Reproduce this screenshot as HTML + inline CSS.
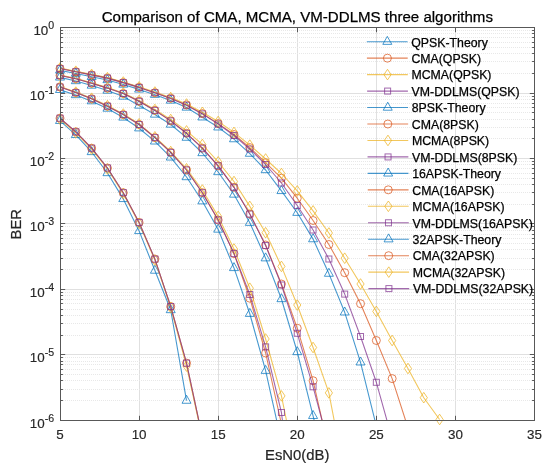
<!DOCTYPE html>
<html lang="en"><head><meta charset="utf-8"><title>Comparison of CMA, MCMA, VM-DDLMS three algorithms</title>
<style>html,body{margin:0;padding:0;background:#fff}svg{display:block}</style></head>
<body>
<svg width="550" height="468" viewBox="0 0 550 468" font-family="'Liberation Sans', sans-serif">
<rect width="550" height="468" fill="#fff"/>
<g stroke="#e0e0e0" stroke-width="1"><line x1="139.50" y1="27.50" x2="139.50" y2="420.50"/><line x1="218.50" y1="27.50" x2="218.50" y2="420.50"/><line x1="297.50" y1="27.50" x2="297.50" y2="420.50"/><line x1="376.50" y1="27.50" x2="376.50" y2="420.50"/><line x1="455.50" y1="27.50" x2="455.50" y2="420.50"/><line x1="60.50" y1="93.50" x2="534.50" y2="93.50"/><line x1="60.50" y1="158.50" x2="534.50" y2="158.50"/><line x1="60.50" y1="223.50" x2="534.50" y2="223.50"/><line x1="60.50" y1="289.50" x2="534.50" y2="289.50"/><line x1="60.50" y1="354.50" x2="534.50" y2="354.50"/></g>
<g stroke="#e8e8e8" stroke-width="1" stroke-dasharray="1 1"><line x1="61.00" y1="73.50" x2="534.00" y2="73.50"/><line x1="61.00" y1="61.50" x2="534.00" y2="61.50"/><line x1="61.00" y1="53.50" x2="534.00" y2="53.50"/><line x1="61.00" y1="47.50" x2="534.00" y2="47.50"/><line x1="61.00" y1="42.50" x2="534.00" y2="42.50"/><line x1="61.00" y1="37.50" x2="534.00" y2="37.50"/><line x1="61.00" y1="33.50" x2="534.00" y2="33.50"/><line x1="61.00" y1="30.50" x2="534.00" y2="30.50"/><line x1="61.00" y1="138.50" x2="534.00" y2="138.50"/><line x1="61.00" y1="127.50" x2="534.00" y2="127.50"/><line x1="61.00" y1="119.50" x2="534.00" y2="119.50"/><line x1="61.00" y1="112.50" x2="534.00" y2="112.50"/><line x1="61.00" y1="107.50" x2="534.00" y2="107.50"/><line x1="61.00" y1="103.50" x2="534.00" y2="103.50"/><line x1="61.00" y1="99.50" x2="534.00" y2="99.50"/><line x1="61.00" y1="96.50" x2="534.00" y2="96.50"/><line x1="61.00" y1="204.50" x2="534.00" y2="204.50"/><line x1="61.00" y1="192.50" x2="534.00" y2="192.50"/><line x1="61.00" y1="184.50" x2="534.00" y2="184.50"/><line x1="61.00" y1="178.50" x2="534.00" y2="178.50"/><line x1="61.00" y1="173.50" x2="534.00" y2="173.50"/><line x1="61.00" y1="168.50" x2="534.00" y2="168.50"/><line x1="61.00" y1="164.50" x2="534.00" y2="164.50"/><line x1="61.00" y1="161.50" x2="534.00" y2="161.50"/><line x1="61.00" y1="269.50" x2="534.00" y2="269.50"/><line x1="61.00" y1="258.50" x2="534.00" y2="258.50"/><line x1="61.00" y1="249.50" x2="534.00" y2="249.50"/><line x1="61.00" y1="243.50" x2="534.00" y2="243.50"/><line x1="61.00" y1="238.50" x2="534.00" y2="238.50"/><line x1="61.00" y1="234.50" x2="534.00" y2="234.50"/><line x1="61.00" y1="230.50" x2="534.00" y2="230.50"/><line x1="61.00" y1="226.50" x2="534.00" y2="226.50"/><line x1="61.00" y1="335.50" x2="534.00" y2="335.50"/><line x1="61.00" y1="323.50" x2="534.00" y2="323.50"/><line x1="61.00" y1="315.50" x2="534.00" y2="315.50"/><line x1="61.00" y1="309.50" x2="534.00" y2="309.50"/><line x1="61.00" y1="303.50" x2="534.00" y2="303.50"/><line x1="61.00" y1="299.50" x2="534.00" y2="299.50"/><line x1="61.00" y1="295.50" x2="534.00" y2="295.50"/><line x1="61.00" y1="292.50" x2="534.00" y2="292.50"/><line x1="61.00" y1="400.50" x2="534.00" y2="400.50"/><line x1="61.00" y1="389.50" x2="534.00" y2="389.50"/><line x1="61.00" y1="380.50" x2="534.00" y2="380.50"/><line x1="61.00" y1="374.50" x2="534.00" y2="374.50"/><line x1="61.00" y1="369.50" x2="534.00" y2="369.50"/><line x1="61.00" y1="364.50" x2="534.00" y2="364.50"/><line x1="61.00" y1="361.50" x2="534.00" y2="361.50"/><line x1="61.00" y1="357.50" x2="534.00" y2="357.50"/></g>
<defs><clipPath id="cp"><rect x="60.50" y="27.50" width="474.00" height="393.00"/></clipPath></defs>
<polyline clip-path="url(#cp)" points="60.00,120.79 75.82,134.82 91.63,151.96 107.45,173.00 123.27,198.91 139.08,230.91 154.90,270.57 170.72,310.00 186.53,400.60" fill="none" stroke="#0072BD" stroke-opacity="0.72" stroke-width="1.1" stroke-linejoin="round"/>
<g stroke-opacity="0.72"><polygon points="60.00,115.46 64.50,123.46 55.50,123.46" fill="none" stroke="#0072BD" stroke-width="1.00"/><polygon points="75.82,129.48 80.32,137.48 71.32,137.48" fill="none" stroke="#0072BD" stroke-width="1.00"/><polygon points="91.63,146.63 96.13,154.63 87.13,154.63" fill="none" stroke="#0072BD" stroke-width="1.00"/><polygon points="107.45,167.67 111.95,175.67 102.95,175.67" fill="none" stroke="#0072BD" stroke-width="1.00"/><polygon points="123.27,193.57 127.77,201.57 118.77,201.57" fill="none" stroke="#0072BD" stroke-width="1.00"/><polygon points="139.08,225.58 143.58,233.58 134.58,233.58" fill="none" stroke="#0072BD" stroke-width="1.00"/><polygon points="154.90,265.23 159.40,273.23 150.40,273.23" fill="none" stroke="#0072BD" stroke-width="1.00"/><polygon points="170.72,304.67 175.22,312.67 166.22,312.67" fill="none" stroke="#0072BD" stroke-width="1.00"/><polygon points="186.53,395.27 191.03,403.27 182.03,403.27" fill="none" stroke="#0072BD" stroke-width="1.00"/></g>
<polyline clip-path="url(#cp)" points="60.00,118.20 75.82,131.80 91.63,148.20 107.45,168.00 123.27,192.70 139.08,222.40 154.90,259.10 170.72,306.50 186.53,363.10 202.35,437.00" fill="none" stroke="#D95319" stroke-opacity="0.72" stroke-width="1.1" stroke-linejoin="round"/>
<g stroke-opacity="0.72"><circle cx="60.00" cy="118.20" r="4" fill="none" stroke="#D95319" stroke-width="1.00"/><circle cx="75.82" cy="131.80" r="4" fill="none" stroke="#D95319" stroke-width="1.00"/><circle cx="91.63" cy="148.20" r="4" fill="none" stroke="#D95319" stroke-width="1.00"/><circle cx="107.45" cy="168.00" r="4" fill="none" stroke="#D95319" stroke-width="1.00"/><circle cx="123.27" cy="192.70" r="4" fill="none" stroke="#D95319" stroke-width="1.00"/><circle cx="139.08" cy="222.40" r="4" fill="none" stroke="#D95319" stroke-width="1.00"/><circle cx="154.90" cy="259.10" r="4" fill="none" stroke="#D95319" stroke-width="1.00"/><circle cx="170.72" cy="306.50" r="4" fill="none" stroke="#D95319" stroke-width="1.00"/><circle cx="186.53" cy="363.10" r="4" fill="none" stroke="#D95319" stroke-width="1.00"/></g>
<polyline clip-path="url(#cp)" points="60.00,119.20 75.82,132.80 91.63,149.20 107.45,169.00 123.27,193.70 139.08,223.40 154.90,260.10 170.72,307.50 186.53,366.10 202.35,438.00" fill="none" stroke="#EDB120" stroke-opacity="0.72" stroke-width="1.1" stroke-linejoin="round"/>
<g stroke-opacity="0.72"><polygon points="60.00,113.90 63.60,119.20 60.00,124.50 56.40,119.20" fill="none" stroke="#EDB120" stroke-width="1.00"/><polygon points="75.82,127.50 79.42,132.80 75.82,138.10 72.22,132.80" fill="none" stroke="#EDB120" stroke-width="1.00"/><polygon points="91.63,143.90 95.23,149.20 91.63,154.50 88.03,149.20" fill="none" stroke="#EDB120" stroke-width="1.00"/><polygon points="107.45,163.70 111.05,169.00 107.45,174.30 103.85,169.00" fill="none" stroke="#EDB120" stroke-width="1.00"/><polygon points="123.27,188.40 126.87,193.70 123.27,199.00 119.67,193.70" fill="none" stroke="#EDB120" stroke-width="1.00"/><polygon points="139.08,218.10 142.68,223.40 139.08,228.70 135.48,223.40" fill="none" stroke="#EDB120" stroke-width="1.00"/><polygon points="154.90,254.80 158.50,260.10 154.90,265.40 151.30,260.10" fill="none" stroke="#EDB120" stroke-width="1.00"/><polygon points="170.72,302.20 174.32,307.50 170.72,312.80 167.12,307.50" fill="none" stroke="#EDB120" stroke-width="1.00"/><polygon points="186.53,360.80 190.13,366.10 186.53,371.40 182.93,366.10" fill="none" stroke="#EDB120" stroke-width="1.00"/></g>
<polyline clip-path="url(#cp)" points="60.00,118.20 75.82,131.80 91.63,148.20 107.45,168.00 123.27,192.70 139.08,222.40 154.90,259.10 170.72,306.50 186.53,363.10 202.35,437.00" fill="none" stroke="#7E2F8E" stroke-opacity="0.72" stroke-width="1.1" stroke-linejoin="round"/>
<g stroke-opacity="0.72"><rect x="57.00" y="115.20" width="6.00" height="6.00" fill="none" stroke="#7E2F8E" stroke-width="1.00"/><rect x="72.82" y="128.80" width="6.00" height="6.00" fill="none" stroke="#7E2F8E" stroke-width="1.00"/><rect x="88.63" y="145.20" width="6.00" height="6.00" fill="none" stroke="#7E2F8E" stroke-width="1.00"/><rect x="104.45" y="165.00" width="6.00" height="6.00" fill="none" stroke="#7E2F8E" stroke-width="1.00"/><rect x="120.27" y="189.70" width="6.00" height="6.00" fill="none" stroke="#7E2F8E" stroke-width="1.00"/><rect x="136.08" y="219.40" width="6.00" height="6.00" fill="none" stroke="#7E2F8E" stroke-width="1.00"/><rect x="151.90" y="256.10" width="6.00" height="6.00" fill="none" stroke="#7E2F8E" stroke-width="1.00"/><rect x="167.72" y="303.50" width="6.00" height="6.00" fill="none" stroke="#7E2F8E" stroke-width="1.00"/><rect x="183.53" y="360.10" width="6.00" height="6.00" fill="none" stroke="#7E2F8E" stroke-width="1.00"/></g>
<polyline clip-path="url(#cp)" points="60.00,89.84 75.82,94.99 91.63,101.14 107.45,108.53 123.27,117.44 139.08,128.23 154.90,141.36 170.72,157.39 186.53,177.03 202.35,201.20 218.17,229.50 233.98,267.93 249.80,313.74 265.62,370.72 281.43,441.74" fill="none" stroke="#0072BD" stroke-opacity="0.72" stroke-width="1.1" stroke-linejoin="round"/>
<g stroke-opacity="0.72"><polygon points="60.00,84.51 64.50,92.51 55.50,92.51" fill="none" stroke="#0072BD" stroke-width="1.00"/><polygon points="75.82,89.66 80.32,97.66 71.32,97.66" fill="none" stroke="#0072BD" stroke-width="1.00"/><polygon points="91.63,95.81 96.13,103.81 87.13,103.81" fill="none" stroke="#0072BD" stroke-width="1.00"/><polygon points="107.45,103.20 111.95,111.20 102.95,111.20" fill="none" stroke="#0072BD" stroke-width="1.00"/><polygon points="123.27,112.11 127.77,120.11 118.77,120.11" fill="none" stroke="#0072BD" stroke-width="1.00"/><polygon points="139.08,122.90 143.58,130.90 134.58,130.90" fill="none" stroke="#0072BD" stroke-width="1.00"/><polygon points="154.90,136.03 159.40,144.03 150.40,144.03" fill="none" stroke="#0072BD" stroke-width="1.00"/><polygon points="170.72,152.05 175.22,160.05 166.22,160.05" fill="none" stroke="#0072BD" stroke-width="1.00"/><polygon points="186.53,171.70 191.03,179.70 182.03,179.70" fill="none" stroke="#0072BD" stroke-width="1.00"/><polygon points="202.35,195.86 206.85,203.86 197.85,203.86" fill="none" stroke="#0072BD" stroke-width="1.00"/><polygon points="218.17,224.17 222.67,232.17 213.67,232.17" fill="none" stroke="#0072BD" stroke-width="1.00"/><polygon points="233.98,262.60 238.48,270.60 229.48,270.60" fill="none" stroke="#0072BD" stroke-width="1.00"/><polygon points="249.80,308.40 254.30,316.40 245.30,316.40" fill="none" stroke="#0072BD" stroke-width="1.00"/><polygon points="265.62,365.38 270.12,373.38 261.12,373.38" fill="none" stroke="#0072BD" stroke-width="1.00"/></g>
<polyline clip-path="url(#cp)" points="60.00,87.00 75.82,92.60 91.63,98.80 107.45,106.20 123.27,114.60 139.08,124.50 154.90,137.60 170.72,152.40 186.53,170.00 202.35,192.70 218.17,220.00 233.98,253.60 249.80,298.20 265.62,353.00 281.43,424.00" fill="none" stroke="#D95319" stroke-opacity="0.72" stroke-width="1.1" stroke-linejoin="round"/>
<g stroke-opacity="0.72"><circle cx="60.00" cy="87.00" r="4" fill="none" stroke="#D95319" stroke-width="1.00"/><circle cx="75.82" cy="92.60" r="4" fill="none" stroke="#D95319" stroke-width="1.00"/><circle cx="91.63" cy="98.80" r="4" fill="none" stroke="#D95319" stroke-width="1.00"/><circle cx="107.45" cy="106.20" r="4" fill="none" stroke="#D95319" stroke-width="1.00"/><circle cx="123.27" cy="114.60" r="4" fill="none" stroke="#D95319" stroke-width="1.00"/><circle cx="139.08" cy="124.50" r="4" fill="none" stroke="#D95319" stroke-width="1.00"/><circle cx="154.90" cy="137.60" r="4" fill="none" stroke="#D95319" stroke-width="1.00"/><circle cx="170.72" cy="152.40" r="4" fill="none" stroke="#D95319" stroke-width="1.00"/><circle cx="186.53" cy="170.00" r="4" fill="none" stroke="#D95319" stroke-width="1.00"/><circle cx="202.35" cy="192.70" r="4" fill="none" stroke="#D95319" stroke-width="1.00"/><circle cx="218.17" cy="220.00" r="4" fill="none" stroke="#D95319" stroke-width="1.00"/><circle cx="233.98" cy="253.60" r="4" fill="none" stroke="#D95319" stroke-width="1.00"/><circle cx="249.80" cy="298.20" r="4" fill="none" stroke="#D95319" stroke-width="1.00"/><circle cx="265.62" cy="353.00" r="4" fill="none" stroke="#D95319" stroke-width="1.00"/></g>
<polyline clip-path="url(#cp)" points="60.00,86.50 75.82,92.10 91.63,98.20 107.45,105.60 123.27,114.00 139.08,123.80 154.90,136.80 170.72,151.50 186.53,168.80 202.35,190.00 218.17,216.40 233.98,249.00 249.80,288.20 265.62,339.00 281.43,395.90 297.25,473.00" fill="none" stroke="#EDB120" stroke-opacity="0.72" stroke-width="1.1" stroke-linejoin="round"/>
<g stroke-opacity="0.72"><polygon points="60.00,81.20 63.60,86.50 60.00,91.80 56.40,86.50" fill="none" stroke="#EDB120" stroke-width="1.00"/><polygon points="75.82,86.80 79.42,92.10 75.82,97.40 72.22,92.10" fill="none" stroke="#EDB120" stroke-width="1.00"/><polygon points="91.63,92.90 95.23,98.20 91.63,103.50 88.03,98.20" fill="none" stroke="#EDB120" stroke-width="1.00"/><polygon points="107.45,100.30 111.05,105.60 107.45,110.90 103.85,105.60" fill="none" stroke="#EDB120" stroke-width="1.00"/><polygon points="123.27,108.70 126.87,114.00 123.27,119.30 119.67,114.00" fill="none" stroke="#EDB120" stroke-width="1.00"/><polygon points="139.08,118.50 142.68,123.80 139.08,129.10 135.48,123.80" fill="none" stroke="#EDB120" stroke-width="1.00"/><polygon points="154.90,131.50 158.50,136.80 154.90,142.10 151.30,136.80" fill="none" stroke="#EDB120" stroke-width="1.00"/><polygon points="170.72,146.20 174.32,151.50 170.72,156.80 167.12,151.50" fill="none" stroke="#EDB120" stroke-width="1.00"/><polygon points="186.53,163.50 190.13,168.80 186.53,174.10 182.93,168.80" fill="none" stroke="#EDB120" stroke-width="1.00"/><polygon points="202.35,184.70 205.95,190.00 202.35,195.30 198.75,190.00" fill="none" stroke="#EDB120" stroke-width="1.00"/><polygon points="218.17,211.10 221.77,216.40 218.17,221.70 214.57,216.40" fill="none" stroke="#EDB120" stroke-width="1.00"/><polygon points="233.98,243.70 237.58,249.00 233.98,254.30 230.38,249.00" fill="none" stroke="#EDB120" stroke-width="1.00"/><polygon points="249.80,282.90 253.40,288.20 249.80,293.50 246.20,288.20" fill="none" stroke="#EDB120" stroke-width="1.00"/><polygon points="265.62,333.70 269.22,339.00 265.62,344.30 262.02,339.00" fill="none" stroke="#EDB120" stroke-width="1.00"/><polygon points="281.43,390.60 285.03,395.90 281.43,401.20 277.83,395.90" fill="none" stroke="#EDB120" stroke-width="1.00"/></g>
<polyline clip-path="url(#cp)" points="60.00,87.00 75.82,92.60 91.63,98.80 107.45,106.20 123.27,114.60 139.08,124.50 154.90,137.60 170.72,152.40 186.53,170.00 202.35,192.70 218.17,220.00 233.98,253.60 249.80,294.50 265.62,346.90 281.43,412.50 297.25,540.00" fill="none" stroke="#7E2F8E" stroke-opacity="0.72" stroke-width="1.1" stroke-linejoin="round"/>
<g stroke-opacity="0.72"><rect x="57.00" y="84.00" width="6.00" height="6.00" fill="none" stroke="#7E2F8E" stroke-width="1.00"/><rect x="72.82" y="89.60" width="6.00" height="6.00" fill="none" stroke="#7E2F8E" stroke-width="1.00"/><rect x="88.63" y="95.80" width="6.00" height="6.00" fill="none" stroke="#7E2F8E" stroke-width="1.00"/><rect x="104.45" y="103.20" width="6.00" height="6.00" fill="none" stroke="#7E2F8E" stroke-width="1.00"/><rect x="120.27" y="111.60" width="6.00" height="6.00" fill="none" stroke="#7E2F8E" stroke-width="1.00"/><rect x="136.08" y="121.50" width="6.00" height="6.00" fill="none" stroke="#7E2F8E" stroke-width="1.00"/><rect x="151.90" y="134.60" width="6.00" height="6.00" fill="none" stroke="#7E2F8E" stroke-width="1.00"/><rect x="167.72" y="149.40" width="6.00" height="6.00" fill="none" stroke="#7E2F8E" stroke-width="1.00"/><rect x="183.53" y="167.00" width="6.00" height="6.00" fill="none" stroke="#7E2F8E" stroke-width="1.00"/><rect x="199.35" y="189.70" width="6.00" height="6.00" fill="none" stroke="#7E2F8E" stroke-width="1.00"/><rect x="215.17" y="217.00" width="6.00" height="6.00" fill="none" stroke="#7E2F8E" stroke-width="1.00"/><rect x="230.98" y="250.60" width="6.00" height="6.00" fill="none" stroke="#7E2F8E" stroke-width="1.00"/><rect x="246.80" y="291.50" width="6.00" height="6.00" fill="none" stroke="#7E2F8E" stroke-width="1.00"/><rect x="262.62" y="343.90" width="6.00" height="6.00" fill="none" stroke="#7E2F8E" stroke-width="1.00"/><rect x="278.43" y="409.50" width="6.00" height="6.00" fill="none" stroke="#7E2F8E" stroke-width="1.00"/></g>
<polyline clip-path="url(#cp)" points="60.00,77.40 75.82,81.00 91.63,85.50 107.45,90.50 123.27,96.50 139.08,105.50 154.90,114.50 170.72,124.50 186.53,137.60 202.35,153.00 218.17,172.00 233.98,194.50 249.80,222.70 265.62,258.20 281.43,299.00 297.25,352.00 313.07,415.80 328.88,480.00" fill="none" stroke="#0072BD" stroke-opacity="0.72" stroke-width="1.1" stroke-linejoin="round"/>
<g stroke-opacity="0.72"><polygon points="60.00,72.07 64.50,80.07 55.50,80.07" fill="none" stroke="#0072BD" stroke-width="1.00"/><polygon points="75.82,75.67 80.32,83.67 71.32,83.67" fill="none" stroke="#0072BD" stroke-width="1.00"/><polygon points="91.63,80.17 96.13,88.17 87.13,88.17" fill="none" stroke="#0072BD" stroke-width="1.00"/><polygon points="107.45,85.17 111.95,93.17 102.95,93.17" fill="none" stroke="#0072BD" stroke-width="1.00"/><polygon points="123.27,91.17 127.77,99.17 118.77,99.17" fill="none" stroke="#0072BD" stroke-width="1.00"/><polygon points="139.08,100.17 143.58,108.17 134.58,108.17" fill="none" stroke="#0072BD" stroke-width="1.00"/><polygon points="154.90,109.17 159.40,117.17 150.40,117.17" fill="none" stroke="#0072BD" stroke-width="1.00"/><polygon points="170.72,119.17 175.22,127.17 166.22,127.17" fill="none" stroke="#0072BD" stroke-width="1.00"/><polygon points="186.53,132.27 191.03,140.27 182.03,140.27" fill="none" stroke="#0072BD" stroke-width="1.00"/><polygon points="202.35,147.67 206.85,155.67 197.85,155.67" fill="none" stroke="#0072BD" stroke-width="1.00"/><polygon points="218.17,166.67 222.67,174.67 213.67,174.67" fill="none" stroke="#0072BD" stroke-width="1.00"/><polygon points="233.98,189.17 238.48,197.17 229.48,197.17" fill="none" stroke="#0072BD" stroke-width="1.00"/><polygon points="249.80,217.37 254.30,225.37 245.30,225.37" fill="none" stroke="#0072BD" stroke-width="1.00"/><polygon points="265.62,252.87 270.12,260.87 261.12,260.87" fill="none" stroke="#0072BD" stroke-width="1.00"/><polygon points="281.43,293.67 285.93,301.67 276.93,301.67" fill="none" stroke="#0072BD" stroke-width="1.00"/><polygon points="297.25,346.67 301.75,354.67 292.75,354.67" fill="none" stroke="#0072BD" stroke-width="1.00"/><polygon points="313.07,410.47 317.57,418.47 308.57,418.47" fill="none" stroke="#0072BD" stroke-width="1.00"/></g>
<polyline clip-path="url(#cp)" points="60.00,75.50 75.82,78.70 91.63,83.20 107.45,88.10 123.27,93.50 139.08,101.30 154.90,110.40 170.72,120.90 186.53,133.30 202.35,148.20 218.17,165.80 233.98,187.30 249.80,214.00 265.62,245.00 281.43,284.00 297.25,328.20 313.07,380.70 328.88,450.00" fill="none" stroke="#D95319" stroke-opacity="0.72" stroke-width="1.1" stroke-linejoin="round"/>
<g stroke-opacity="0.72"><circle cx="60.00" cy="75.50" r="4" fill="none" stroke="#D95319" stroke-width="1.00"/><circle cx="75.82" cy="78.70" r="4" fill="none" stroke="#D95319" stroke-width="1.00"/><circle cx="91.63" cy="83.20" r="4" fill="none" stroke="#D95319" stroke-width="1.00"/><circle cx="107.45" cy="88.10" r="4" fill="none" stroke="#D95319" stroke-width="1.00"/><circle cx="123.27" cy="93.50" r="4" fill="none" stroke="#D95319" stroke-width="1.00"/><circle cx="139.08" cy="101.30" r="4" fill="none" stroke="#D95319" stroke-width="1.00"/><circle cx="154.90" cy="110.40" r="4" fill="none" stroke="#D95319" stroke-width="1.00"/><circle cx="170.72" cy="120.90" r="4" fill="none" stroke="#D95319" stroke-width="1.00"/><circle cx="186.53" cy="133.30" r="4" fill="none" stroke="#D95319" stroke-width="1.00"/><circle cx="202.35" cy="148.20" r="4" fill="none" stroke="#D95319" stroke-width="1.00"/><circle cx="218.17" cy="165.80" r="4" fill="none" stroke="#D95319" stroke-width="1.00"/><circle cx="233.98" cy="187.30" r="4" fill="none" stroke="#D95319" stroke-width="1.00"/><circle cx="249.80" cy="214.00" r="4" fill="none" stroke="#D95319" stroke-width="1.00"/><circle cx="265.62" cy="245.00" r="4" fill="none" stroke="#D95319" stroke-width="1.00"/><circle cx="281.43" cy="284.00" r="4" fill="none" stroke="#D95319" stroke-width="1.00"/><circle cx="297.25" cy="328.20" r="4" fill="none" stroke="#D95319" stroke-width="1.00"/><circle cx="313.07" cy="380.70" r="4" fill="none" stroke="#D95319" stroke-width="1.00"/></g>
<polyline clip-path="url(#cp)" points="60.00,75.00 75.82,78.20 91.63,82.70 107.45,87.60 123.27,93.00 139.08,100.50 154.90,109.50 170.72,119.50 186.53,130.90 202.35,144.50 218.17,161.80 233.98,181.50 249.80,206.40 265.62,232.70 281.43,266.40 297.25,305.00 313.07,347.50 328.88,392.90 344.70,475.00" fill="none" stroke="#EDB120" stroke-opacity="0.72" stroke-width="1.1" stroke-linejoin="round"/>
<g stroke-opacity="0.72"><polygon points="60.00,69.70 63.60,75.00 60.00,80.30 56.40,75.00" fill="none" stroke="#EDB120" stroke-width="1.00"/><polygon points="75.82,72.90 79.42,78.20 75.82,83.50 72.22,78.20" fill="none" stroke="#EDB120" stroke-width="1.00"/><polygon points="91.63,77.40 95.23,82.70 91.63,88.00 88.03,82.70" fill="none" stroke="#EDB120" stroke-width="1.00"/><polygon points="107.45,82.30 111.05,87.60 107.45,92.90 103.85,87.60" fill="none" stroke="#EDB120" stroke-width="1.00"/><polygon points="123.27,87.70 126.87,93.00 123.27,98.30 119.67,93.00" fill="none" stroke="#EDB120" stroke-width="1.00"/><polygon points="139.08,95.20 142.68,100.50 139.08,105.80 135.48,100.50" fill="none" stroke="#EDB120" stroke-width="1.00"/><polygon points="154.90,104.20 158.50,109.50 154.90,114.80 151.30,109.50" fill="none" stroke="#EDB120" stroke-width="1.00"/><polygon points="170.72,114.20 174.32,119.50 170.72,124.80 167.12,119.50" fill="none" stroke="#EDB120" stroke-width="1.00"/><polygon points="186.53,125.60 190.13,130.90 186.53,136.20 182.93,130.90" fill="none" stroke="#EDB120" stroke-width="1.00"/><polygon points="202.35,139.20 205.95,144.50 202.35,149.80 198.75,144.50" fill="none" stroke="#EDB120" stroke-width="1.00"/><polygon points="218.17,156.50 221.77,161.80 218.17,167.10 214.57,161.80" fill="none" stroke="#EDB120" stroke-width="1.00"/><polygon points="233.98,176.20 237.58,181.50 233.98,186.80 230.38,181.50" fill="none" stroke="#EDB120" stroke-width="1.00"/><polygon points="249.80,201.10 253.40,206.40 249.80,211.70 246.20,206.40" fill="none" stroke="#EDB120" stroke-width="1.00"/><polygon points="265.62,227.40 269.22,232.70 265.62,238.00 262.02,232.70" fill="none" stroke="#EDB120" stroke-width="1.00"/><polygon points="281.43,261.10 285.03,266.40 281.43,271.70 277.83,266.40" fill="none" stroke="#EDB120" stroke-width="1.00"/><polygon points="297.25,299.70 300.85,305.00 297.25,310.30 293.65,305.00" fill="none" stroke="#EDB120" stroke-width="1.00"/><polygon points="313.07,342.20 316.67,347.50 313.07,352.80 309.47,347.50" fill="none" stroke="#EDB120" stroke-width="1.00"/><polygon points="328.88,387.60 332.48,392.90 328.88,398.20 325.28,392.90" fill="none" stroke="#EDB120" stroke-width="1.00"/></g>
<polyline clip-path="url(#cp)" points="60.00,75.50 75.82,78.70 91.63,83.20 107.45,88.10 123.27,93.50 139.08,101.30 154.90,110.40 170.72,120.90 186.53,133.30 202.35,148.20 218.17,165.80 233.98,187.30 249.80,214.00 265.62,245.50 281.43,285.00 297.25,333.30 313.07,386.80 328.88,446.00" fill="none" stroke="#7E2F8E" stroke-opacity="0.72" stroke-width="1.1" stroke-linejoin="round"/>
<g stroke-opacity="0.72"><rect x="57.00" y="72.50" width="6.00" height="6.00" fill="none" stroke="#7E2F8E" stroke-width="1.00"/><rect x="72.82" y="75.70" width="6.00" height="6.00" fill="none" stroke="#7E2F8E" stroke-width="1.00"/><rect x="88.63" y="80.20" width="6.00" height="6.00" fill="none" stroke="#7E2F8E" stroke-width="1.00"/><rect x="104.45" y="85.10" width="6.00" height="6.00" fill="none" stroke="#7E2F8E" stroke-width="1.00"/><rect x="120.27" y="90.50" width="6.00" height="6.00" fill="none" stroke="#7E2F8E" stroke-width="1.00"/><rect x="136.08" y="98.30" width="6.00" height="6.00" fill="none" stroke="#7E2F8E" stroke-width="1.00"/><rect x="151.90" y="107.40" width="6.00" height="6.00" fill="none" stroke="#7E2F8E" stroke-width="1.00"/><rect x="167.72" y="117.90" width="6.00" height="6.00" fill="none" stroke="#7E2F8E" stroke-width="1.00"/><rect x="183.53" y="130.30" width="6.00" height="6.00" fill="none" stroke="#7E2F8E" stroke-width="1.00"/><rect x="199.35" y="145.20" width="6.00" height="6.00" fill="none" stroke="#7E2F8E" stroke-width="1.00"/><rect x="215.17" y="162.80" width="6.00" height="6.00" fill="none" stroke="#7E2F8E" stroke-width="1.00"/><rect x="230.98" y="184.30" width="6.00" height="6.00" fill="none" stroke="#7E2F8E" stroke-width="1.00"/><rect x="246.80" y="211.00" width="6.00" height="6.00" fill="none" stroke="#7E2F8E" stroke-width="1.00"/><rect x="262.62" y="242.50" width="6.00" height="6.00" fill="none" stroke="#7E2F8E" stroke-width="1.00"/><rect x="278.43" y="282.00" width="6.00" height="6.00" fill="none" stroke="#7E2F8E" stroke-width="1.00"/><rect x="294.25" y="330.30" width="6.00" height="6.00" fill="none" stroke="#7E2F8E" stroke-width="1.00"/><rect x="310.07" y="383.80" width="6.00" height="6.00" fill="none" stroke="#7E2F8E" stroke-width="1.00"/></g>
<polyline clip-path="url(#cp)" points="60.00,70.40 75.82,73.50 91.63,76.80 107.45,80.00 123.27,84.50 139.08,89.40 154.90,94.70 170.72,100.50 186.53,107.50 202.35,117.30 218.17,127.30 233.98,139.10 249.80,153.60 265.62,170.00 281.43,190.90 297.25,212.70 313.07,239.10 328.88,273.60 344.70,312.30 360.52,362.30 376.33,426.00" fill="none" stroke="#0072BD" stroke-opacity="0.72" stroke-width="1.1" stroke-linejoin="round"/>
<g stroke-opacity="0.72"><polygon points="60.00,65.07 64.50,73.07 55.50,73.07" fill="none" stroke="#0072BD" stroke-width="1.00"/><polygon points="75.82,68.17 80.32,76.17 71.32,76.17" fill="none" stroke="#0072BD" stroke-width="1.00"/><polygon points="91.63,71.47 96.13,79.47 87.13,79.47" fill="none" stroke="#0072BD" stroke-width="1.00"/><polygon points="107.45,74.67 111.95,82.67 102.95,82.67" fill="none" stroke="#0072BD" stroke-width="1.00"/><polygon points="123.27,79.17 127.77,87.17 118.77,87.17" fill="none" stroke="#0072BD" stroke-width="1.00"/><polygon points="139.08,84.07 143.58,92.07 134.58,92.07" fill="none" stroke="#0072BD" stroke-width="1.00"/><polygon points="154.90,89.37 159.40,97.37 150.40,97.37" fill="none" stroke="#0072BD" stroke-width="1.00"/><polygon points="170.72,95.17 175.22,103.17 166.22,103.17" fill="none" stroke="#0072BD" stroke-width="1.00"/><polygon points="186.53,102.17 191.03,110.17 182.03,110.17" fill="none" stroke="#0072BD" stroke-width="1.00"/><polygon points="202.35,111.97 206.85,119.97 197.85,119.97" fill="none" stroke="#0072BD" stroke-width="1.00"/><polygon points="218.17,121.97 222.67,129.97 213.67,129.97" fill="none" stroke="#0072BD" stroke-width="1.00"/><polygon points="233.98,133.77 238.48,141.77 229.48,141.77" fill="none" stroke="#0072BD" stroke-width="1.00"/><polygon points="249.80,148.27 254.30,156.27 245.30,156.27" fill="none" stroke="#0072BD" stroke-width="1.00"/><polygon points="265.62,164.67 270.12,172.67 261.12,172.67" fill="none" stroke="#0072BD" stroke-width="1.00"/><polygon points="281.43,185.57 285.93,193.57 276.93,193.57" fill="none" stroke="#0072BD" stroke-width="1.00"/><polygon points="297.25,207.37 301.75,215.37 292.75,215.37" fill="none" stroke="#0072BD" stroke-width="1.00"/><polygon points="313.07,233.77 317.57,241.77 308.57,241.77" fill="none" stroke="#0072BD" stroke-width="1.00"/><polygon points="328.88,268.27 333.38,276.27 324.38,276.27" fill="none" stroke="#0072BD" stroke-width="1.00"/><polygon points="344.70,306.97 349.20,314.97 340.20,314.97" fill="none" stroke="#0072BD" stroke-width="1.00"/><polygon points="360.52,356.97 365.02,364.97 356.02,364.97" fill="none" stroke="#0072BD" stroke-width="1.00"/></g>
<polyline clip-path="url(#cp)" points="60.00,68.50 75.82,71.70 91.63,74.90 107.45,78.10 123.27,82.60 139.08,87.40 154.90,92.70 170.72,98.20 186.53,104.90 202.35,113.60 218.17,123.60 233.98,134.50 249.80,147.60 265.62,162.70 281.43,178.20 297.25,198.20 313.07,220.50 328.88,244.50 344.70,272.70 360.52,303.70 376.33,340.50 392.15,378.60 407.97,427.80" fill="none" stroke="#D95319" stroke-opacity="0.72" stroke-width="1.1" stroke-linejoin="round"/>
<g stroke-opacity="0.72"><circle cx="60.00" cy="68.50" r="4" fill="none" stroke="#D95319" stroke-width="1.00"/><circle cx="75.82" cy="71.70" r="4" fill="none" stroke="#D95319" stroke-width="1.00"/><circle cx="91.63" cy="74.90" r="4" fill="none" stroke="#D95319" stroke-width="1.00"/><circle cx="107.45" cy="78.10" r="4" fill="none" stroke="#D95319" stroke-width="1.00"/><circle cx="123.27" cy="82.60" r="4" fill="none" stroke="#D95319" stroke-width="1.00"/><circle cx="139.08" cy="87.40" r="4" fill="none" stroke="#D95319" stroke-width="1.00"/><circle cx="154.90" cy="92.70" r="4" fill="none" stroke="#D95319" stroke-width="1.00"/><circle cx="170.72" cy="98.20" r="4" fill="none" stroke="#D95319" stroke-width="1.00"/><circle cx="186.53" cy="104.90" r="4" fill="none" stroke="#D95319" stroke-width="1.00"/><circle cx="202.35" cy="113.60" r="4" fill="none" stroke="#D95319" stroke-width="1.00"/><circle cx="218.17" cy="123.60" r="4" fill="none" stroke="#D95319" stroke-width="1.00"/><circle cx="233.98" cy="134.50" r="4" fill="none" stroke="#D95319" stroke-width="1.00"/><circle cx="249.80" cy="147.60" r="4" fill="none" stroke="#D95319" stroke-width="1.00"/><circle cx="265.62" cy="162.70" r="4" fill="none" stroke="#D95319" stroke-width="1.00"/><circle cx="281.43" cy="178.20" r="4" fill="none" stroke="#D95319" stroke-width="1.00"/><circle cx="297.25" cy="198.20" r="4" fill="none" stroke="#D95319" stroke-width="1.00"/><circle cx="313.07" cy="220.50" r="4" fill="none" stroke="#D95319" stroke-width="1.00"/><circle cx="328.88" cy="244.50" r="4" fill="none" stroke="#D95319" stroke-width="1.00"/><circle cx="344.70" cy="272.70" r="4" fill="none" stroke="#D95319" stroke-width="1.00"/><circle cx="360.52" cy="303.70" r="4" fill="none" stroke="#D95319" stroke-width="1.00"/><circle cx="376.33" cy="340.50" r="4" fill="none" stroke="#D95319" stroke-width="1.00"/><circle cx="392.15" cy="378.60" r="4" fill="none" stroke="#D95319" stroke-width="1.00"/></g>
<polyline clip-path="url(#cp)" points="60.00,68.00 75.82,71.20 91.63,74.40 107.45,77.60 123.27,82.00 139.08,86.80 154.90,92.00 170.72,97.50 186.53,104.00 202.35,112.30 218.17,121.50 233.98,132.40 249.80,145.10 265.62,159.00 281.43,173.50 297.25,190.90 313.07,210.90 328.88,233.00 344.70,258.20 360.52,284.00 376.33,311.40 392.15,340.50 407.97,368.50 423.78,397.70 439.60,419.50" fill="none" stroke="#EDB120" stroke-opacity="0.72" stroke-width="1.1" stroke-linejoin="round"/>
<g stroke-opacity="0.72"><polygon points="60.00,62.70 63.60,68.00 60.00,73.30 56.40,68.00" fill="none" stroke="#EDB120" stroke-width="1.00"/><polygon points="75.82,65.90 79.42,71.20 75.82,76.50 72.22,71.20" fill="none" stroke="#EDB120" stroke-width="1.00"/><polygon points="91.63,69.10 95.23,74.40 91.63,79.70 88.03,74.40" fill="none" stroke="#EDB120" stroke-width="1.00"/><polygon points="107.45,72.30 111.05,77.60 107.45,82.90 103.85,77.60" fill="none" stroke="#EDB120" stroke-width="1.00"/><polygon points="123.27,76.70 126.87,82.00 123.27,87.30 119.67,82.00" fill="none" stroke="#EDB120" stroke-width="1.00"/><polygon points="139.08,81.50 142.68,86.80 139.08,92.10 135.48,86.80" fill="none" stroke="#EDB120" stroke-width="1.00"/><polygon points="154.90,86.70 158.50,92.00 154.90,97.30 151.30,92.00" fill="none" stroke="#EDB120" stroke-width="1.00"/><polygon points="170.72,92.20 174.32,97.50 170.72,102.80 167.12,97.50" fill="none" stroke="#EDB120" stroke-width="1.00"/><polygon points="186.53,98.70 190.13,104.00 186.53,109.30 182.93,104.00" fill="none" stroke="#EDB120" stroke-width="1.00"/><polygon points="202.35,107.00 205.95,112.30 202.35,117.60 198.75,112.30" fill="none" stroke="#EDB120" stroke-width="1.00"/><polygon points="218.17,116.20 221.77,121.50 218.17,126.80 214.57,121.50" fill="none" stroke="#EDB120" stroke-width="1.00"/><polygon points="233.98,127.10 237.58,132.40 233.98,137.70 230.38,132.40" fill="none" stroke="#EDB120" stroke-width="1.00"/><polygon points="249.80,139.80 253.40,145.10 249.80,150.40 246.20,145.10" fill="none" stroke="#EDB120" stroke-width="1.00"/><polygon points="265.62,153.70 269.22,159.00 265.62,164.30 262.02,159.00" fill="none" stroke="#EDB120" stroke-width="1.00"/><polygon points="281.43,168.20 285.03,173.50 281.43,178.80 277.83,173.50" fill="none" stroke="#EDB120" stroke-width="1.00"/><polygon points="297.25,185.60 300.85,190.90 297.25,196.20 293.65,190.90" fill="none" stroke="#EDB120" stroke-width="1.00"/><polygon points="313.07,205.60 316.67,210.90 313.07,216.20 309.47,210.90" fill="none" stroke="#EDB120" stroke-width="1.00"/><polygon points="328.88,227.70 332.48,233.00 328.88,238.30 325.28,233.00" fill="none" stroke="#EDB120" stroke-width="1.00"/><polygon points="344.70,252.90 348.30,258.20 344.70,263.50 341.10,258.20" fill="none" stroke="#EDB120" stroke-width="1.00"/><polygon points="360.52,278.70 364.12,284.00 360.52,289.30 356.92,284.00" fill="none" stroke="#EDB120" stroke-width="1.00"/><polygon points="376.33,306.10 379.93,311.40 376.33,316.70 372.73,311.40" fill="none" stroke="#EDB120" stroke-width="1.00"/><polygon points="392.15,335.20 395.75,340.50 392.15,345.80 388.55,340.50" fill="none" stroke="#EDB120" stroke-width="1.00"/><polygon points="407.97,363.20 411.57,368.50 407.97,373.80 404.37,368.50" fill="none" stroke="#EDB120" stroke-width="1.00"/><polygon points="423.78,392.40 427.38,397.70 423.78,403.00 420.18,397.70" fill="none" stroke="#EDB120" stroke-width="1.00"/><polygon points="439.60,414.20 443.20,419.50 439.60,424.80 436.00,419.50" fill="none" stroke="#EDB120" stroke-width="1.00"/></g>
<polyline clip-path="url(#cp)" points="60.00,68.50 75.82,71.70 91.63,74.90 107.45,78.10 123.27,82.60 139.08,87.40 154.90,92.70 170.72,98.40 186.53,105.20 202.35,113.90 218.17,124.00 233.98,135.50 249.80,149.00 265.62,164.50 281.43,183.00 297.25,205.50 313.07,230.00 328.88,259.00 344.70,294.10 360.52,336.50 376.33,382.30 392.15,439.00" fill="none" stroke="#7E2F8E" stroke-opacity="0.72" stroke-width="1.1" stroke-linejoin="round"/>
<g stroke-opacity="0.72"><rect x="57.00" y="65.50" width="6.00" height="6.00" fill="none" stroke="#7E2F8E" stroke-width="1.00"/><rect x="72.82" y="68.70" width="6.00" height="6.00" fill="none" stroke="#7E2F8E" stroke-width="1.00"/><rect x="88.63" y="71.90" width="6.00" height="6.00" fill="none" stroke="#7E2F8E" stroke-width="1.00"/><rect x="104.45" y="75.10" width="6.00" height="6.00" fill="none" stroke="#7E2F8E" stroke-width="1.00"/><rect x="120.27" y="79.60" width="6.00" height="6.00" fill="none" stroke="#7E2F8E" stroke-width="1.00"/><rect x="136.08" y="84.40" width="6.00" height="6.00" fill="none" stroke="#7E2F8E" stroke-width="1.00"/><rect x="151.90" y="89.70" width="6.00" height="6.00" fill="none" stroke="#7E2F8E" stroke-width="1.00"/><rect x="167.72" y="95.40" width="6.00" height="6.00" fill="none" stroke="#7E2F8E" stroke-width="1.00"/><rect x="183.53" y="102.20" width="6.00" height="6.00" fill="none" stroke="#7E2F8E" stroke-width="1.00"/><rect x="199.35" y="110.90" width="6.00" height="6.00" fill="none" stroke="#7E2F8E" stroke-width="1.00"/><rect x="215.17" y="121.00" width="6.00" height="6.00" fill="none" stroke="#7E2F8E" stroke-width="1.00"/><rect x="230.98" y="132.50" width="6.00" height="6.00" fill="none" stroke="#7E2F8E" stroke-width="1.00"/><rect x="246.80" y="146.00" width="6.00" height="6.00" fill="none" stroke="#7E2F8E" stroke-width="1.00"/><rect x="262.62" y="161.50" width="6.00" height="6.00" fill="none" stroke="#7E2F8E" stroke-width="1.00"/><rect x="278.43" y="180.00" width="6.00" height="6.00" fill="none" stroke="#7E2F8E" stroke-width="1.00"/><rect x="294.25" y="202.50" width="6.00" height="6.00" fill="none" stroke="#7E2F8E" stroke-width="1.00"/><rect x="310.07" y="227.00" width="6.00" height="6.00" fill="none" stroke="#7E2F8E" stroke-width="1.00"/><rect x="325.88" y="256.00" width="6.00" height="6.00" fill="none" stroke="#7E2F8E" stroke-width="1.00"/><rect x="341.70" y="291.10" width="6.00" height="6.00" fill="none" stroke="#7E2F8E" stroke-width="1.00"/><rect x="357.52" y="333.50" width="6.00" height="6.00" fill="none" stroke="#7E2F8E" stroke-width="1.00"/><rect x="373.33" y="379.30" width="6.00" height="6.00" fill="none" stroke="#7E2F8E" stroke-width="1.00"/></g>
<g stroke="#585858" stroke-width="1"><line x1="60.50" y1="420.50" x2="60.50" y2="415.80"/><line x1="60.50" y1="27.50" x2="60.50" y2="32.20"/><line x1="139.50" y1="420.50" x2="139.50" y2="415.80"/><line x1="139.50" y1="27.50" x2="139.50" y2="32.20"/><line x1="218.50" y1="420.50" x2="218.50" y2="415.80"/><line x1="218.50" y1="27.50" x2="218.50" y2="32.20"/><line x1="297.50" y1="420.50" x2="297.50" y2="415.80"/><line x1="297.50" y1="27.50" x2="297.50" y2="32.20"/><line x1="376.50" y1="420.50" x2="376.50" y2="415.80"/><line x1="376.50" y1="27.50" x2="376.50" y2="32.20"/><line x1="455.50" y1="420.50" x2="455.50" y2="415.80"/><line x1="455.50" y1="27.50" x2="455.50" y2="32.20"/><line x1="534.50" y1="420.50" x2="534.50" y2="415.80"/><line x1="534.50" y1="27.50" x2="534.50" y2="32.20"/><line x1="60.50" y1="27.50" x2="65.20" y2="27.50"/><line x1="534.50" y1="27.50" x2="529.80" y2="27.50"/><line x1="60.50" y1="73.50" x2="62.90" y2="73.50"/><line x1="534.50" y1="73.50" x2="532.10" y2="73.50"/><line x1="60.50" y1="61.50" x2="62.90" y2="61.50"/><line x1="534.50" y1="61.50" x2="532.10" y2="61.50"/><line x1="60.50" y1="53.50" x2="62.90" y2="53.50"/><line x1="534.50" y1="53.50" x2="532.10" y2="53.50"/><line x1="60.50" y1="47.50" x2="62.90" y2="47.50"/><line x1="534.50" y1="47.50" x2="532.10" y2="47.50"/><line x1="60.50" y1="42.50" x2="62.90" y2="42.50"/><line x1="534.50" y1="42.50" x2="532.10" y2="42.50"/><line x1="60.50" y1="37.50" x2="62.90" y2="37.50"/><line x1="534.50" y1="37.50" x2="532.10" y2="37.50"/><line x1="60.50" y1="33.50" x2="62.90" y2="33.50"/><line x1="534.50" y1="33.50" x2="532.10" y2="33.50"/><line x1="60.50" y1="30.50" x2="62.90" y2="30.50"/><line x1="534.50" y1="30.50" x2="532.10" y2="30.50"/><line x1="60.50" y1="93.50" x2="65.20" y2="93.50"/><line x1="534.50" y1="93.50" x2="529.80" y2="93.50"/><line x1="60.50" y1="138.50" x2="62.90" y2="138.50"/><line x1="534.50" y1="138.50" x2="532.10" y2="138.50"/><line x1="60.50" y1="127.50" x2="62.90" y2="127.50"/><line x1="534.50" y1="127.50" x2="532.10" y2="127.50"/><line x1="60.50" y1="119.50" x2="62.90" y2="119.50"/><line x1="534.50" y1="119.50" x2="532.10" y2="119.50"/><line x1="60.50" y1="112.50" x2="62.90" y2="112.50"/><line x1="534.50" y1="112.50" x2="532.10" y2="112.50"/><line x1="60.50" y1="107.50" x2="62.90" y2="107.50"/><line x1="534.50" y1="107.50" x2="532.10" y2="107.50"/><line x1="60.50" y1="103.50" x2="62.90" y2="103.50"/><line x1="534.50" y1="103.50" x2="532.10" y2="103.50"/><line x1="60.50" y1="99.50" x2="62.90" y2="99.50"/><line x1="534.50" y1="99.50" x2="532.10" y2="99.50"/><line x1="60.50" y1="96.50" x2="62.90" y2="96.50"/><line x1="534.50" y1="96.50" x2="532.10" y2="96.50"/><line x1="60.50" y1="158.50" x2="65.20" y2="158.50"/><line x1="534.50" y1="158.50" x2="529.80" y2="158.50"/><line x1="60.50" y1="204.50" x2="62.90" y2="204.50"/><line x1="534.50" y1="204.50" x2="532.10" y2="204.50"/><line x1="60.50" y1="192.50" x2="62.90" y2="192.50"/><line x1="534.50" y1="192.50" x2="532.10" y2="192.50"/><line x1="60.50" y1="184.50" x2="62.90" y2="184.50"/><line x1="534.50" y1="184.50" x2="532.10" y2="184.50"/><line x1="60.50" y1="178.50" x2="62.90" y2="178.50"/><line x1="534.50" y1="178.50" x2="532.10" y2="178.50"/><line x1="60.50" y1="173.50" x2="62.90" y2="173.50"/><line x1="534.50" y1="173.50" x2="532.10" y2="173.50"/><line x1="60.50" y1="168.50" x2="62.90" y2="168.50"/><line x1="534.50" y1="168.50" x2="532.10" y2="168.50"/><line x1="60.50" y1="164.50" x2="62.90" y2="164.50"/><line x1="534.50" y1="164.50" x2="532.10" y2="164.50"/><line x1="60.50" y1="161.50" x2="62.90" y2="161.50"/><line x1="534.50" y1="161.50" x2="532.10" y2="161.50"/><line x1="60.50" y1="223.50" x2="65.20" y2="223.50"/><line x1="534.50" y1="223.50" x2="529.80" y2="223.50"/><line x1="60.50" y1="269.50" x2="62.90" y2="269.50"/><line x1="534.50" y1="269.50" x2="532.10" y2="269.50"/><line x1="60.50" y1="258.50" x2="62.90" y2="258.50"/><line x1="534.50" y1="258.50" x2="532.10" y2="258.50"/><line x1="60.50" y1="249.50" x2="62.90" y2="249.50"/><line x1="534.50" y1="249.50" x2="532.10" y2="249.50"/><line x1="60.50" y1="243.50" x2="62.90" y2="243.50"/><line x1="534.50" y1="243.50" x2="532.10" y2="243.50"/><line x1="60.50" y1="238.50" x2="62.90" y2="238.50"/><line x1="534.50" y1="238.50" x2="532.10" y2="238.50"/><line x1="60.50" y1="234.50" x2="62.90" y2="234.50"/><line x1="534.50" y1="234.50" x2="532.10" y2="234.50"/><line x1="60.50" y1="230.50" x2="62.90" y2="230.50"/><line x1="534.50" y1="230.50" x2="532.10" y2="230.50"/><line x1="60.50" y1="226.50" x2="62.90" y2="226.50"/><line x1="534.50" y1="226.50" x2="532.10" y2="226.50"/><line x1="60.50" y1="289.50" x2="65.20" y2="289.50"/><line x1="534.50" y1="289.50" x2="529.80" y2="289.50"/><line x1="60.50" y1="335.50" x2="62.90" y2="335.50"/><line x1="534.50" y1="335.50" x2="532.10" y2="335.50"/><line x1="60.50" y1="323.50" x2="62.90" y2="323.50"/><line x1="534.50" y1="323.50" x2="532.10" y2="323.50"/><line x1="60.50" y1="315.50" x2="62.90" y2="315.50"/><line x1="534.50" y1="315.50" x2="532.10" y2="315.50"/><line x1="60.50" y1="309.50" x2="62.90" y2="309.50"/><line x1="534.50" y1="309.50" x2="532.10" y2="309.50"/><line x1="60.50" y1="303.50" x2="62.90" y2="303.50"/><line x1="534.50" y1="303.50" x2="532.10" y2="303.50"/><line x1="60.50" y1="299.50" x2="62.90" y2="299.50"/><line x1="534.50" y1="299.50" x2="532.10" y2="299.50"/><line x1="60.50" y1="295.50" x2="62.90" y2="295.50"/><line x1="534.50" y1="295.50" x2="532.10" y2="295.50"/><line x1="60.50" y1="292.50" x2="62.90" y2="292.50"/><line x1="534.50" y1="292.50" x2="532.10" y2="292.50"/><line x1="60.50" y1="354.50" x2="65.20" y2="354.50"/><line x1="534.50" y1="354.50" x2="529.80" y2="354.50"/><line x1="60.50" y1="400.50" x2="62.90" y2="400.50"/><line x1="534.50" y1="400.50" x2="532.10" y2="400.50"/><line x1="60.50" y1="389.50" x2="62.90" y2="389.50"/><line x1="534.50" y1="389.50" x2="532.10" y2="389.50"/><line x1="60.50" y1="380.50" x2="62.90" y2="380.50"/><line x1="534.50" y1="380.50" x2="532.10" y2="380.50"/><line x1="60.50" y1="374.50" x2="62.90" y2="374.50"/><line x1="534.50" y1="374.50" x2="532.10" y2="374.50"/><line x1="60.50" y1="369.50" x2="62.90" y2="369.50"/><line x1="534.50" y1="369.50" x2="532.10" y2="369.50"/><line x1="60.50" y1="364.50" x2="62.90" y2="364.50"/><line x1="534.50" y1="364.50" x2="532.10" y2="364.50"/><line x1="60.50" y1="361.50" x2="62.90" y2="361.50"/><line x1="534.50" y1="361.50" x2="532.10" y2="361.50"/><line x1="60.50" y1="357.50" x2="62.90" y2="357.50"/><line x1="534.50" y1="357.50" x2="532.10" y2="357.50"/><line x1="60.50" y1="420.50" x2="65.20" y2="420.50"/><line x1="534.50" y1="420.50" x2="529.80" y2="420.50"/></g>
<rect x="60.50" y="27.50" width="474.00" height="393.00" fill="none" stroke="#585858" stroke-width="1"/>
<g fill="#262626" stroke="#262626" stroke-width="0.15" font-size="13.4"><text x="60.00" y="439.4" text-anchor="middle">5</text><text x="139.08" y="439.4" text-anchor="middle">10</text><text x="218.17" y="439.4" text-anchor="middle">15</text><text x="297.25" y="439.4" text-anchor="middle">20</text><text x="376.33" y="439.4" text-anchor="middle">25</text><text x="455.42" y="439.4" text-anchor="middle">30</text><text x="534.50" y="439.4" text-anchor="middle">35</text></g>
<g fill="#262626" stroke="#262626" stroke-width="0.15"><text x="54.2" y="35.00" text-anchor="end" font-size="13.4">10<tspan dy="-6.2" font-size="10.6">0</tspan></text><text x="54.2" y="100.45" text-anchor="end" font-size="13.4">10<tspan dy="-6.2" font-size="10.6">-1</tspan></text><text x="54.2" y="165.90" text-anchor="end" font-size="13.4">10<tspan dy="-6.2" font-size="10.6">-2</tspan></text><text x="54.2" y="231.35" text-anchor="end" font-size="13.4">10<tspan dy="-6.2" font-size="10.6">-3</tspan></text><text x="54.2" y="296.80" text-anchor="end" font-size="13.4">10<tspan dy="-6.2" font-size="10.6">-4</tspan></text><text x="54.2" y="362.25" text-anchor="end" font-size="13.4">10<tspan dy="-6.2" font-size="10.6">-5</tspan></text><text x="54.2" y="427.70" text-anchor="end" font-size="13.4">10<tspan dy="-6.2" font-size="10.6">-6</tspan></text></g>
<text x="297.2" y="460.2" text-anchor="middle" font-size="14.85" stroke="#262626" stroke-width="0.2" fill="#262626">EsN0(dB)</text>
<text transform="translate(21.3,224.2) rotate(-90)" text-anchor="middle" font-size="14.8" stroke="#262626" stroke-width="0.2" fill="#262626">BER</text>
<text x="297.3" y="22.2" text-anchor="middle" font-size="15.08" stroke="#000" stroke-width="0.25" fill="#000">Comparison of CMA, MCMA, VM-DDLMS three algorithms</text>
<g stroke-opacity="0.72"><line x1="366.80" y1="41.70" x2="407.60" y2="41.70" stroke="#0072BD" stroke-width="1.1"/><polygon points="387.30,36.37 391.80,44.37 382.80,44.37" fill="none" stroke="#0072BD" stroke-width="1.00"/><text x="411.30" y="46.50" font-size="12.3" fill="#000" stroke="#000" stroke-width="0.25" stroke-opacity="1">QPSK-Theory</text><line x1="366.91" y1="58.16" x2="407.71" y2="58.16" stroke="#D95319" stroke-width="1.1"/><circle cx="387.41" cy="58.16" r="4" fill="none" stroke="#D95319" stroke-width="1.00"/><text x="411.41" y="62.96" font-size="12.3" fill="#000" stroke="#000" stroke-width="0.25" stroke-opacity="1">CMA(QPSK)</text><line x1="367.01" y1="74.62" x2="407.81" y2="74.62" stroke="#EDB120" stroke-width="1.1"/><polygon points="387.51,69.32 391.11,74.62 387.51,79.92 383.91,74.62" fill="none" stroke="#EDB120" stroke-width="1.00"/><text x="411.51" y="79.42" font-size="12.3" fill="#000" stroke="#000" stroke-width="0.25" stroke-opacity="1">MCMA(QPSK)</text><line x1="367.12" y1="91.08" x2="407.92" y2="91.08" stroke="#7E2F8E" stroke-width="1.1"/><rect x="384.62" y="88.08" width="6.00" height="6.00" fill="none" stroke="#7E2F8E" stroke-width="1.00"/><text x="411.62" y="95.88" font-size="12.3" fill="#000" stroke="#000" stroke-width="0.25" stroke-opacity="1">VM-DDLMS(QPSK)</text><line x1="367.23" y1="107.54" x2="408.03" y2="107.54" stroke="#0072BD" stroke-width="1.1"/><polygon points="387.73,102.21 392.23,110.21 383.23,110.21" fill="none" stroke="#0072BD" stroke-width="1.00"/><text x="411.73" y="112.34" font-size="12.3" fill="#000" stroke="#000" stroke-width="0.25" stroke-opacity="1">8PSK-Theory</text><line x1="367.33" y1="124.00" x2="408.13" y2="124.00" stroke="#D95319" stroke-width="1.1"/><circle cx="387.83" cy="124.00" r="4" fill="none" stroke="#D95319" stroke-width="1.00"/><text x="411.83" y="128.80" font-size="12.3" fill="#000" stroke="#000" stroke-width="0.25" stroke-opacity="1">CMA(8PSK)</text><line x1="367.44" y1="140.46" x2="408.24" y2="140.46" stroke="#EDB120" stroke-width="1.1"/><polygon points="387.94,135.16 391.54,140.46 387.94,145.76 384.34,140.46" fill="none" stroke="#EDB120" stroke-width="1.00"/><text x="411.94" y="145.26" font-size="12.3" fill="#000" stroke="#000" stroke-width="0.25" stroke-opacity="1">MCMA(8PSK)</text><line x1="367.55" y1="156.92" x2="408.35" y2="156.92" stroke="#7E2F8E" stroke-width="1.1"/><rect x="385.05" y="153.92" width="6.00" height="6.00" fill="none" stroke="#7E2F8E" stroke-width="1.00"/><text x="412.05" y="161.72" font-size="12.3" fill="#000" stroke="#000" stroke-width="0.25" stroke-opacity="1">VM-DDLMS(8PSK)</text><line x1="367.65" y1="173.38" x2="408.45" y2="173.38" stroke="#0072BD" stroke-width="1.1"/><polygon points="388.15,168.05 392.65,176.05 383.65,176.05" fill="none" stroke="#0072BD" stroke-width="1.00"/><text x="412.15" y="178.18" font-size="12.3" fill="#000" stroke="#000" stroke-width="0.25" stroke-opacity="1">16APSK-Theory</text><line x1="367.76" y1="189.84" x2="408.56" y2="189.84" stroke="#D95319" stroke-width="1.1"/><circle cx="388.26" cy="189.84" r="4" fill="none" stroke="#D95319" stroke-width="1.00"/><text x="412.26" y="194.64" font-size="12.3" fill="#000" stroke="#000" stroke-width="0.25" stroke-opacity="1">CMA(16APSK)</text><line x1="367.87" y1="206.30" x2="408.67" y2="206.30" stroke="#EDB120" stroke-width="1.1"/><polygon points="388.37,201.00 391.97,206.30 388.37,211.60 384.77,206.30" fill="none" stroke="#EDB120" stroke-width="1.00"/><text x="412.37" y="211.10" font-size="12.3" fill="#000" stroke="#000" stroke-width="0.25" stroke-opacity="1">MCMA(16APSK)</text><line x1="367.97" y1="222.76" x2="408.77" y2="222.76" stroke="#7E2F8E" stroke-width="1.1"/><rect x="385.47" y="219.76" width="6.00" height="6.00" fill="none" stroke="#7E2F8E" stroke-width="1.00"/><text x="412.47" y="227.56" font-size="12.3" fill="#000" stroke="#000" stroke-width="0.25" stroke-opacity="1">VM-DDLMS(16APSK)</text><line x1="368.08" y1="239.22" x2="408.88" y2="239.22" stroke="#0072BD" stroke-width="1.1"/><polygon points="388.58,233.89 393.08,241.89 384.08,241.89" fill="none" stroke="#0072BD" stroke-width="1.00"/><text x="412.58" y="244.02" font-size="12.3" fill="#000" stroke="#000" stroke-width="0.25" stroke-opacity="1">32APSK-Theory</text><line x1="368.19" y1="255.68" x2="408.99" y2="255.68" stroke="#D95319" stroke-width="1.1"/><circle cx="388.69" cy="255.68" r="4" fill="none" stroke="#D95319" stroke-width="1.00"/><text x="412.69" y="260.48" font-size="12.3" fill="#000" stroke="#000" stroke-width="0.25" stroke-opacity="1">CMA(32APSK)</text><line x1="368.29" y1="272.14" x2="409.09" y2="272.14" stroke="#EDB120" stroke-width="1.1"/><polygon points="388.79,266.84 392.39,272.14 388.79,277.44 385.19,272.14" fill="none" stroke="#EDB120" stroke-width="1.00"/><text x="412.79" y="276.94" font-size="12.3" fill="#000" stroke="#000" stroke-width="0.25" stroke-opacity="1">MCMA(32APSK)</text><line x1="368.40" y1="288.60" x2="409.20" y2="288.60" stroke="#7E2F8E" stroke-width="1.1"/><rect x="385.90" y="285.60" width="6.00" height="6.00" fill="none" stroke="#7E2F8E" stroke-width="1.00"/><text x="412.90" y="293.40" font-size="12.3" fill="#000" stroke="#000" stroke-width="0.25" stroke-opacity="1">VM-DDLMS(32APSK)</text></g>
</svg>
</body></html>
